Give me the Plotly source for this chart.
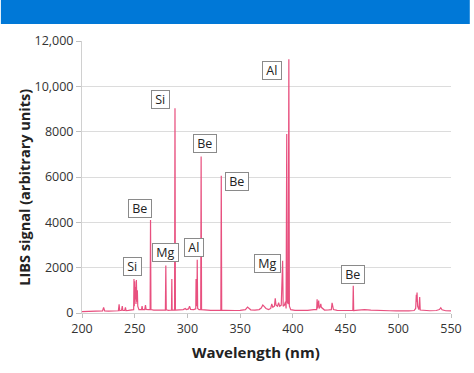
import plotly.graph_objects as go

wavelength = [
    200, 205, 210, 215, 219.5, 220.5, 221.5, 225, 230, 234.5, 235.2, 235.8,
    237.5, 238.2, 238.8, 240.5, 241.2, 241.8, 244, 247, 249.0, 249.3, 249.6,
    250.0, 250.4, 250.8, 251.2, 251.6, 252.0, 252.5, 252.9, 253.3, 254, 256.5,
    257, 257.5, 259.5, 260.2, 260.8, 263, 264.6, 265.0, 265.4, 268, 272, 276,
    279.1, 279.5, 279.9, 282, 284.9, 285.2, 285.5, 287.8, 288.2, 288.6, 292,
    296, 298, 299, 301, 302, 303, 306, 307.9, 308.2, 308.6, 309.0, 309.3,
    309.7, 311, 312.6, 313.0, 313.4, 317, 322, 327, 331.7, 332.1, 332.5, 336,
    340, 345, 350, 355, 357, 358.5, 360, 364, 368, 370, 371.5, 373, 374.5,
    377, 379, 380, 381, 382.5, 383.3, 384, 385.5, 386.5, 387.5, 389, 390.3,
    390.8, 392, 393.0, 393.6, 394.2, 394.6, 395.6, 396.2, 396.7, 398, 402,
    408, 414, 420, 422.6, 423.0, 423.4, 424.5, 425, 426, 426.5, 427, 428.5,
    430, 434, 436.5, 437.2, 437.8, 438.5, 442, 447, 452, 456.9, 457.3, 457.7,
    462, 468, 474, 480, 486, 492, 498, 504, 510, 515, 516.5, 517.1, 517.4,
    517.8, 518.3, 519.5, 520.3, 520.8, 524, 530, 536, 539, 540.3, 541.5, 545,
    550,
]
signal = [
    60, 70, 60, 80, 90, 250, 90, 80, 90, 100, 380, 110,
    120, 300, 110, 110, 250, 110, 120, 130, 150, 1500, 300,
    1400, 600, 1150, 400, 1450, 500, 1000, 300, 200, 150, 160,
    300, 150, 150, 350, 160, 150, 150, 4100, 150, 130, 120, 130,
    130, 2100, 140, 120, 130, 1500, 130, 130, 9030, 130, 130,
    150, 200, 150, 180, 300, 160, 150, 180, 1500, 300, 400, 2350,
    200, 150, 150, 6900, 150, 130, 120, 120, 120, 6050, 120, 120,
    110, 110, 120, 150, 260, 180, 140, 130, 150, 220, 350, 280, 200,
    150, 200, 400, 250, 300, 650, 350, 300, 450, 300, 350, 2300,
    300, 350, 500, 200, 7900, 500, 400, 11200, 300, 150, 120,
    110, 120, 150, 150, 600, 200, 550, 200, 300, 400, 250, 200,
    130, 140, 150, 450, 300, 150, 120, 120, 110, 110, 1200, 110,
    130, 150, 130, 110, 90, 100, 90, 80, 90, 110, 200, 800, 500,
    900, 300, 150, 700, 130, 110, 100, 110, 150, 230, 140, 100,
    90,
]

label_text = ["Si", "Be", "Mg", "Al", "Si", "Be", "Be", "Al", "Mg", "Be"]
label_wl = [247.8, 254.8, 278.8, 305.9, 274.7, 316.3, 347.2, 380.5, 375.8, 457.2]
label_sig = [2030, 4630, 2650, 2870, 9440, 7500, 5820, 10700, 2200, 1720]

y_ticks = [0, 2000, 4000, 6000, 8000, 10000, 12000]
y_tick_text = ["0", "2000", "4000", "6000", "8000", "10,000", "12,000"]
x_ticks = [200, 250, 300, 350, 400, 450, 500, 550]

FONT = "Open Sans"

fig = go.Figure()
fig.add_trace(go.Scatter(
    x=wavelength, y=signal, mode="lines",
    line=dict(color="#e8507f", width=1.2),
    hoverinfo="skip", showlegend=False,
))

for t, xw, ys in zip(label_text, label_wl, label_sig):
    fig.add_annotation(
        x=xw, y=ys, xref="x", yref="y", text="\u00a0" + t + "\u00a0", showarrow=False,
        font=dict(family=FONT, size=12.5, color="#222"),
        bgcolor="white", bordercolor="#8a8a8a", borderwidth=1, borderpad=0,
    )

W, H = 474, 373
L, R, T, B = 82, 19, 41, 60
pw, ph = W - L - R, H - T - B

# blue header band
fig.add_shape(type="rect", xref="paper", yref="paper",
              x0=-L / pw, x1=(W - L) / pw,
              y0=1 + (T - 24) / ph, y1=1 + T / ph,
              fillcolor="#0078d7", line=dict(width=0), layer="above")

fig.add_annotation(xref="paper", yref="paper", x=(258 - L) / pw, y=-(352 - (H - B)) / ph,
                   text="<b>Wavelength (nm)</b>", showarrow=False,
                   font=dict(family=FONT, size=15, color="#222"),
                   xanchor="center", yanchor="middle")
fig.add_annotation(xref="paper", yref="paper", x=-(L - 23) / pw, y=1 - (187 - T) / ph,
                   text="<b>LIBS signal (arbitrary units)</b>", showarrow=False,
                   textangle=-90,
                   font=dict(family=FONT, size=14.5, color="#222"),
                   xanchor="center", yanchor="middle")

fig.update_layout(
    width=W, height=H,
    margin=dict(l=L, r=R, t=T, b=B, pad=0),
    paper_bgcolor="white", plot_bgcolor="white",
    font=dict(family=FONT, size=12.5, color="#333"),
    xaxis=dict(range=[200, 550], tickvals=x_ticks, showgrid=False,
               zeroline=False, showline=True, linecolor="#d0d0d0", linewidth=1,
               ticks="outside", ticklen=4, tickcolor="#c0c0c0",
               tickfont=dict(family=FONT, size=12.5, color="#333")),
    yaxis=dict(range=[0, 12000], tickvals=y_ticks, ticktext=y_tick_text,
               showgrid=True, gridcolor="#dcdcdc", gridwidth=1,
               zeroline=False, showline=True, linecolor="#d0d0d0", linewidth=1,
               ticks="outside", ticklen=5, tickcolor="#c0c0c0",
               tickfont=dict(family=FONT, size=12.5, color="#333")),
)

fig.write_html("out.html", config={"displayModeBar": False},
               post_script="document.body.style.margin='0';document.body.style.overflow='hidden';")
